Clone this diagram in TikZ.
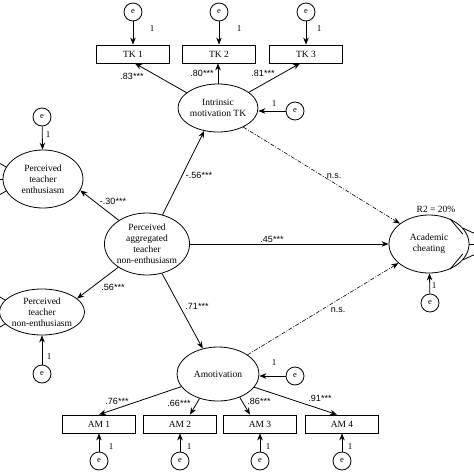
\documentclass[tikz,border=0pt]{standalone}
\usepackage{fontspec}
\setmainfont{Liberation Serif}
\newfontfamily\labfont{Liberation Sans}
\usetikzlibrary{arrows.meta,shapes.geometric}
\begin{document}
\begin{tikzpicture}[x=1pt,y=-1pt,
 lat/.style={draw,ellipse,inner sep=0pt,align=center,font=\fontsize{9.5}{11}\selectfont,line width=0.8pt},
 obs/.style={draw,rectangle,minimum width=73pt,minimum height=18pt,inner sep=0pt,font=\fontsize{9.5}{10}\selectfont,line width=0.8pt},
 err/.style={draw,circle,minimum size=18pt,inner sep=0pt,font=\fontsize{8.5}{9}\selectfont,line width=0.8pt},
 arr/.style={-{Stealth[length=7pt,width=5.5pt]},line width=0.8pt},
 dd/.style={arr,dash pattern=on 4pt off 1.5pt on 1pt off 1.5pt,line width=0.6pt},
 coef/.style={font=\labfont\fontsize{9}{10}\selectfont,inner sep=0pt},
 one/.style={font=\fontsize{9}{10}\selectfont,inner sep=0pt},
 side/.style={line width=0.8pt},
]
\useasboundingbox (0,0) rectangle (474,474);
\clip (0,0) rectangle (474,474);
% observed TK
\node[obs] (TK1) at (133,54) {TK 1};
\node[obs] (TK2) at (219,54) {TK 2};
\node[obs] (TK3) at (306,54) {TK 3};
\node[err] (eT1) at (133,12) {e};
\node[err] (eT2) at (219,12) {e};
\node[err] (eT3) at (306,12) {e};
% latent
\node[lat,minimum width=80pt,minimum height=48pt] (IM) at (218,108) {Intrinsic\\motivation TK};
\node[err] (eIM) at (295,111) {e};
\node[lat,minimum width=80pt,minimum height=58pt] (PTE) at (43,179) {Perceived\\teacher\\enthusiasm};
\node[err] (ePTE) at (42,117) {e};
\node[lat,minimum width=80pt,minimum height=46pt] (PTN) at (42,312) {Perceived\\teacher\\non-enthusiasm};
\node[err] (ePTN) at (42,374) {e};
\node[lat,minimum width=85pt,minimum height=62pt] (PAT) at (147,244) {Perceived\\aggregated\\teacher\\non-enthusiasm};
\node[lat,minimum width=80pt,minimum height=58pt] (AC) at (429,244) {Academic\\cheating};
\node[err] (eAC) at (430,303) {e};
\node[lat,minimum width=82pt,minimum height=54pt] (AMO) at (218,374) {Amotivation};
\node[err] (eAMO) at (295,376) {e};
% observed AM
\node[obs] (AM1) at (99,424) {AM 1};
\node[obs] (AM2) at (180,424) {AM 2};
\node[obs] (AM3) at (260,424) {AM 3};
\node[obs] (AM4) at (342,424) {AM 4};
\node[err] (eA1) at (99,461) {e};
\node[err] (eA2) at (180,461) {e};
\node[err] (eA3) at (260,461) {e};
\node[err] (eA4) at (342,461) {e};
% error arrows
\draw[arr] (eT1) -- (TK1);
\draw[arr] (eT2) -- (TK2);
\draw[arr] (eT3) -- (TK3);
\draw[arr] (eIM) -- (IM.east |- eIM);
\draw[arr] (ePTE) -- (PTE);
\draw[arr] (ePTN) -- (PTN);
\draw[arr] (eAC) -- (AC);
\draw[arr] (eAMO) -- (AMO.east |- eAMO);
\draw[arr] (eA1) -- (AM1);
\draw[arr] (eA2) -- (AM2);
\draw[arr] (eA3) -- (AM3);
\draw[arr] (eA4) -- (AM4);
% loadings
\draw[arr] (IM.154) -- ([xshift=2pt]TK1.south);
\draw[arr] (IM.north) -- (IM.north |- TK2.south);
\draw[arr] (IM.27) -- ([xshift=-6pt]TK3.south);
\draw[arr] (AMO.199) -- (AM1.north);
\draw[arr] (AMO.-127) -- ([xshift=10pt]AM2.north);
\draw[arr] (AMO.-47) -- ([xshift=-10pt]AM3.north);
\draw[arr] (AMO.-20) -- ([xshift=-5pt]AM4.north);
% structural
\draw[arr] (PAT.62) -- (IM.-121);
\draw[arr] (PAT.140) -- (PTE.-17);
\draw[arr] (PAT.-141) -- (PTN.21);
\draw[arr] (PAT.-63) -- (AMO.121);
\draw[arr] (PAT.east) -- (AC.west);
\draw[dd] (IM.-37) -- (AC.145);
\draw[dd] (AMO.33) -- (AC.-148);
% side lines (cut by border)
\foreach \a/\dx/\dy in {162/-12/-7,180/-12/0,198/-12/7}{
  \draw[side] (PTE.\a) -- ++(\dx,\dy);
  \draw[side] (PTN.\a) -- ++(\dx,\dy);
}
\foreach \a in {50,25,0,-25,-50}{
  \draw[side] (AC.\a) -- ++(\a:20);
}
% labels
\node[coef] (l83) at (132,76) {.83***};
\node[coef] (l80) at (202,73) {.80***};
\node[coef] (l81) at (263,73) {.81***};
\node[one] (o1) at (152,29) {1};
\node[one] (o2) at (239,29) {1};
\node[one] (o3) at (319,29) {1};
\node[one] (o4) at (274,104) {1};
\node[one] (o5) at (48,135) {1};
\node[coef] (l30) at (113,201) {-.30***};
\node[coef] (l56a) at (199,175) {-.56***};
\node[coef] (l56b) at (113,287) {.56***};
\node[coef] (l71) at (197,306) {.71***};
\node[coef] (l45) at (272,239) {.45***};
\node[coef] (ns1) at (334,176) {n.s.};
\node[coef] (ns2) at (338,310) {n.s.};
\node[one,font=\fontsize{9.5}{10}\selectfont] (r2) at (436,209) {R2 = 20\%};
\node[one] (o6) at (434,286) {1};
\node[one] (o7) at (49,357) {1};
\node[one] (o8) at (274,363) {1};
\node[coef] (l76) at (117,401) {.76***};
\node[coef] (l66) at (179,403) {.66***};
\node[coef] (l86) at (259,401) {.86***};
\node[coef] (l91) at (320,398) {.91***};
\node[one] (o9) at (111,447) {1};
\node[one] (o10) at (189,447) {1};
\node[one] (o11) at (268,447) {1};
\node[one] (o12) at (350,447) {1};
\end{tikzpicture}
\end{document}
